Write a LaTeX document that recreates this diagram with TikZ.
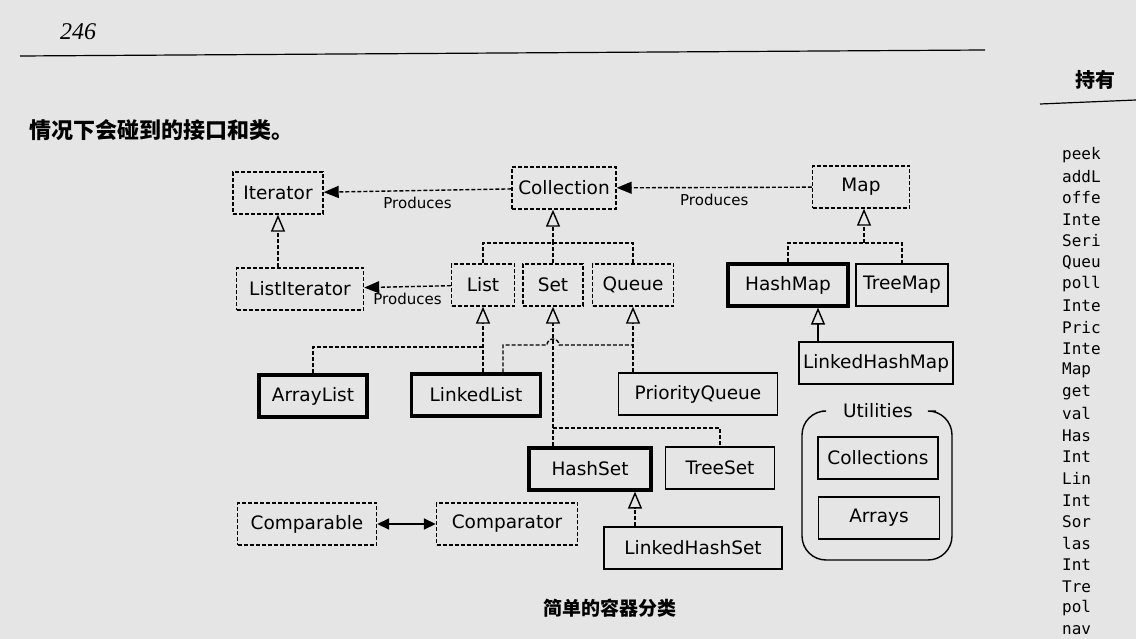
\documentclass[tikz,border=0pt]{standalone}
\usepackage{fontspec}
\setmainfont{Liberation Serif}
\setsansfont{DejaVu Sans}
\setmonofont{DejaVu Sans Mono}
\newfontfamily\cjk{Noto Sans CJK SC}
\usetikzlibrary{arrows.meta, positioning}
\tikzset{
  box/.style={draw, rectangle, minimum height=42pt, inner xsep=4pt, font=\sffamily\fontsize{18.5}{18.5}\selectfont, line width=1.4pt},
  iface/.style={box, dash pattern=on 4pt off 2pt},
  cls/.style={box},
  major/.style={box, line width=3.2pt},
  dline/.style={dash pattern=on 4pt off 2pt, line width=1.4pt},
  impl/.style={-{Triangle[open, length=17pt, width=14pt, line width=1.4pt]}, dline},
  produce/.style={-{Triangle[length=15pt, width=12pt]}, dline},
  lbl/.style={font=\sffamily\fontsize{15}{15}\selectfont},
  codeline/.style={anchor=west, font=\ttfamily\fontsize{16}{16}\selectfont, inner sep=0pt}
}
\begin{document}
\begin{tikzpicture}[x=1pt, y=-1pt, >=Stealth]
  \useasboundingbox (0,0) rectangle (1136,639);
  \fill[black!10] (0,0) rectangle (1136,639);
  % page header
  \node [font=\itshape\fontsize{24}{24}\selectfont] (pagenum) at (78,32) {246};
  \draw[line width=1.2pt] (20,56) -- (985,50);
  \node [font=\cjk\bfseries\fontsize{22}{22}\selectfont, anchor=west] (intro) at (26,130) {情况下会碰到的接口和类。};
  % interfaces
  \node [iface, minimum width=90pt] (iterator) at (278,193) {Iterator};
  \node [iface, minimum width=104pt] (collection) at (564,188) {Collection};
  \node [iface, minimum width=97pt] (map) at (861,187) {Map};
  \node [iface, minimum width=127pt] (listiter) at (300,289) {ListIterator};
  \node [iface, minimum width=63pt] (list) at (483,285) {List};
  \node [iface, minimum width=60pt] (set) at (553,285) {Set};
  \node [iface, minimum width=81pt] (queue) at (633,285) {Queue};
  \node [iface, minimum width=139pt] (comparable) at (307,524) {Comparable};
  \node [iface, minimum width=141pt] (comparator) at (507,524) {Comparator};
  % classes
  \node [major, minimum width=120pt] (hashmap) at (788,285) {HashMap};
  \node [cls, minimum width=92pt] (treemap) at (902,285) {TreeMap};
  \node [cls, minimum width=147pt] (linkedhashmap) at (876,363) {LinkedHashMap};
  \node [major, minimum width=108pt] (arraylist) at (313,396) {ArrayList};
  \node [major, minimum width=129pt] (linkedlist) at (476,395) {LinkedList};
  \node [cls, minimum width=159pt] (priorityqueue) at (698,394) {PriorityQueue};
  \node [major, minimum width=122pt] (hashset) at (590,469) {HashSet};
  \node [cls, minimum width=109pt] (treeset) at (720,468) {TreeSet};
  \node [cls, minimum width=178pt] (linkedhashset) at (693,548) {LinkedHashSet};
  % utilities
  \draw[line width=1.4pt, rounded corners=24pt] (822,411) -- (802,411) -- (802,560) -- (952,560) -- (952,411) -- (936,411);
  \node [font=\sffamily\fontsize{18.5}{18.5}\selectfont] (utilities) at (878,411) {Utilities};
  \node [cls, minimum width=120pt] (collections) at (878,458) {Collections};
  \node [cls, minimum width=121pt] (arrays) at (879,518) {Arrays};
  % produces
  \draw[produce] (collection) -- (iterator) node[lbl, midway, below=3pt] {Produces};
  \draw[produce] (map) -- (collection) node[lbl, midway, below=3pt] {Produces};
  \draw[produce] (list) -- (listiter) node[lbl, midway, below=2pt] {Produces};
  \draw[{Triangle[length=12pt, width=11pt]}-{Triangle[length=12pt, width=11pt]}, line width=1.6pt] (comparable) -- (comparator);
  % inheritance
  \draw[impl] (listiter.north -| iterator) -- (iterator);
  \coordinate (cbus) at (553,243);
  \draw[dline] (list.north) |- (cbus) -| (queue.north);
  \draw[dline] (set.north) -- (cbus);
  \draw[impl] (cbus) -- (cbus |- collection.south);
  \coordinate (mbus) at (864,243);
  \draw[dline] (hashmap.north) |- (mbus) -| (treemap.north);
  \draw[impl] (mbus) -- (mbus |- map.south);
  \draw[-{Triangle[open, length=17pt, width=14pt, line width=1.4pt]}, line width=1.4pt] (linkedhashmap.north -| 818,0) -- (818,0 |- hashmap.south);
  \coordinate (lbus) at (483,347);
  \draw[dline] (arraylist.north) |- (lbus);
  \draw[impl] (lbus |- linkedlist.north) -- (list.south);
  \draw[dline] (503,0 |- linkedlist.north) -- (503,345) -- (547,345) arc[start angle=180, end angle=0, radius=6pt] -- (633,345);
  \draw[impl] (priorityqueue.north -| queue) -- (queue.south);
  \draw[impl] (hashset.north -| set) -- (set.south);
  \draw[dline] (553,428) -| (treeset.north);
  \draw[impl] (linkedhashset.north -| 635,0) -- (635,0 |- hashset.south);
  % caption
  \node [font=\cjk\bfseries\fontsize{19}{19}\selectfont] (caption) at (610,608) {简单的容器分类};
  % facing page
  \node [font=\cjk\bfseries\fontsize{20}{20}\selectfont, anchor=west] (facing) at (1072,80) {持有};
  \draw[line width=1.2pt] (1040,104) -- (1136,100);
  \foreach \w [count=\i] in {peek,addL,offe,Inte,Seri,Queu,poll,Inte,Pric,Inte,Map,get,val,Has,Int,Lin,Int,Sor,las,Int,Tre,pol,nav}
    \node [codeline] (code\i) at (1062,{133+21.6*\i}) {\w};
\end{tikzpicture}
\end{document}
